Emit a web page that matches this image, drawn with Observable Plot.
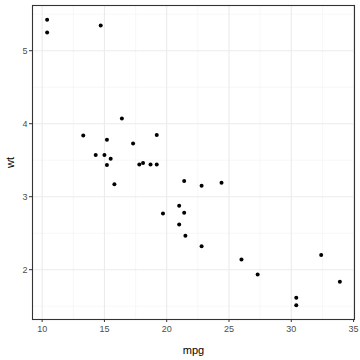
<!DOCTYPE html>
<html><head><meta charset="utf-8">
<script src="https://cdn.jsdelivr.net/npm/d3@7"></script>
<script src="https://cdn.jsdelivr.net/npm/@observablehq/plot@0.6"></script>
<style>body{margin:0;background:#fff}</style>
</head><body><div id="chart"></div>
<script>
const mpg = [21.0,21.0,22.8,21.4,18.7,18.1,14.3,24.4,22.8,19.2,17.8,16.4,17.3,15.2,10.4,10.4,14.7,32.4,30.4,33.9,21.5,15.5,15.2,13.3,19.2,27.3,26.0,30.4,15.8,19.7,15.0,21.4];
const wt = [2.620,2.875,2.320,3.215,3.440,3.460,3.570,3.190,3.150,3.440,3.440,4.070,3.730,3.780,5.250,5.424,5.345,2.200,1.615,1.835,2.465,3.520,3.435,3.840,3.845,1.935,2.140,1.513,3.170,2.770,3.570,2.780];
const xTicks = [10,15,20,25,30,35];
const xMinor = [12.5,17.5,22.5,27.5,32.5];
const yTicks = [2,3,4,5];
const yMinor = [1.5,2.5,3.5,4.5,5.5];
const data = mpg.map((m,i)=>({mpg:m, wt:wt[i]}));
const chart = Plot.plot({
  width:360, height:360,
  marginLeft:32, marginRight:6, marginTop:5, marginBottom:41,
  style:{fontFamily:"Liberation Sans, Arial, sans-serif", background:"#fff"},
  x:{domain:[9.225,35.075]},
  y:{domain:[1.3175,5.6195]},
  marks:[
    Plot.gridX(xMinor,{stroke:"#f2f2f2",strokeOpacity:1,strokeWidth:0.6}),
    Plot.gridY(yMinor,{stroke:"#f2f2f2",strokeOpacity:1,strokeWidth:0.6}),
    Plot.gridX(xTicks,{stroke:"#ebebeb",strokeOpacity:1,strokeWidth:1.1}),
    Plot.gridY(yTicks,{stroke:"#ebebeb",strokeOpacity:1,strokeWidth:1.1}),
    Plot.dot(data,{x:"mpg",y:"wt",r:2,fill:"#000",stroke:"none"}),
    Plot.frame({stroke:"#333",strokeWidth:1.1}),
    Plot.axisX(xTicks,{tickSize:3,tickPadding:3,fontSize:9,color:"#4d4d4d",stroke:"#333",tickFormat:d=>String(d),label:"mpg",labelAnchor:"center",labelArrow:"none",labelOffset:34}),
    Plot.axisY(yTicks,{tickSize:3,tickPadding:2,fontSize:9,color:"#4d4d4d",stroke:"#333",tickFormat:d=>String(d),label:"wt",labelAnchor:"center",labelArrow:"none",labelOffset:26})
  ]
});
d3.select(chart).selectAll('[aria-label="x-axis label"] text, [aria-label="y-axis label"] text').attr("font-size",11).attr("fill","#000");
d3.select(chart).selectAll('[aria-label="x-axis tick label"], [aria-label="y-axis tick label"]').attr("fill","#4d4d4d");
document.getElementById("chart").appendChild(chart);
</script></body></html>
